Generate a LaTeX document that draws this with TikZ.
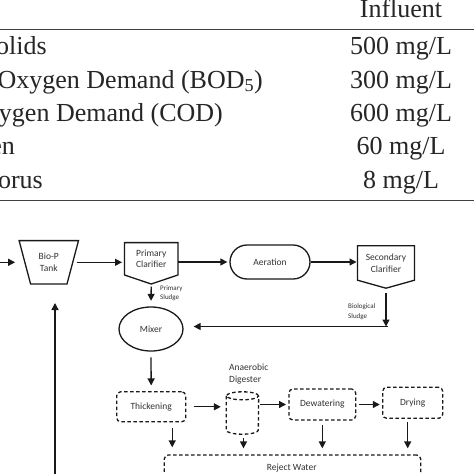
\documentclass[tikz,border=0pt]{standalone}
\usepackage{fontspec}
\setmainfont{Carlito}
\newfontfamily\tabfont{Liberation Serif}
\usetikzlibrary{arrows.meta,shapes.geometric}
\tikzset{
  thk/.style={line width=1.3pt, draw=black!90},
  arr/.style={thk, -{Triangle[length=7pt,width=7pt]}},
  shp/.style={inner sep=0pt, align=center, font=\fontsize{9.5}{11.6}\selectfont, text=black!80},
  dshd/.style={dash pattern=on 3.5pt off 2.5pt},
  dbox/.style={shp, thk, dshd, rounded corners=4pt},
  small/.style={inner sep=0pt, align=left, font=\fontsize{7}{9.5}\selectfont, text=black!80},
  tab/.style={inner sep=0pt, font=\tabfont\fontsize{26}{30}\selectfont, text=black!85}
}
\begin{document}
\begin{tikzpicture}[x=1pt,y=-1pt]
\useasboundingbox (0,0) rectangle (474,474);
\clip (0,0) rectangle (474,474);
\fill[white] (0,0) rectangle (474,474);
% table
\node[tab, anchor=base] (hdr) at (401,17) {Influent};
\draw[line width=1.1pt, black!75] (0,29.3) -- (474,29.3);
\node[tab, anchor=base east] (r1) at (47,54.5) {Total Suspended Solids};
\node[tab, anchor=base east] (r2) at (263,88) {Biochemical Oxygen Demand (BOD\textsubscript{5})};
\node[tab, anchor=base east] (r3) at (223,121.3) {Chemical Oxygen Demand (COD)};
\node[tab, anchor=base east] (r4) at (15,154.7) {Total Nitrogen};
\node[tab, anchor=base east] (r5) at (43,188) {Total Phosphorus};
\node[tab, anchor=base] (v1) at (401,54.5) {500 mg/L};
\node[tab, anchor=base] (v2) at (401,88) {300 mg/L};
\node[tab, anchor=base] (v3) at (401,121.3) {600 mg/L};
\node[tab, anchor=base] (v4) at (401,154.7) {60 mg/L};
\node[tab, anchor=base] (v5) at (401,188) {8 mg/L};
\draw[line width=1.1pt, black!75] (0,200.5) -- (474,200.5);
% flow sheet
\node[shp, minimum width=59pt, minimum height=43pt] (biop) at (48.8,262.3) {Bio-P\\Tank};
\draw[thk] (biop.north west) -- (biop.north east) -- ([xshift=-11.5pt]biop.south east)
  -- ([xshift=11.5pt]biop.south west) -- cycle;
\node[shp, minimum width=53pt, minimum height=32pt] (pc) at (151.2,258.8) {Primary\\Clarifier};
\draw[thk] (pc.north west) -- (pc.north east) -- (pc.south east) -- ([yshift=-9pt]pc.south)
  -- (pc.south west) -- cycle;
\node[shp, thk, rounded corners=17pt, minimum width=80pt, minimum height=34pt] (aer) at (270,262) {Aeration};
\node[shp, minimum width=56.6pt, minimum height=34pt] (sc) at (386,263) {Secondary\\Clarifier};
\draw[thk] (sc.north west) -- (sc.north east) -- (sc.south east) -- ([yshift=-8pt]sc.south)
  -- (sc.south west) -- cycle;
\node[shp, thk, ellipse, minimum width=64pt, minimum height=44pt] (mix) at (151,329) {Mixer};
\node[dbox, minimum width=69pt, minimum height=30pt] (thk) at (151.2,406.8) {Thickening};
\node[shp, minimum width=32pt, minimum height=42pt] (dig) at (242.5,413) {};
\draw[thk, dshd] ([yshift=-4pt]dig.north) ellipse [x radius=16pt, y radius=4pt];
\draw[thk, dshd] ([yshift=-4pt]dig.north west) -- ([yshift=4pt]dig.south west)
  arc[start angle=180, end angle=360, x radius=16pt, y radius=4pt] -- ([yshift=-4pt]dig.north east);
\node[shp, align=left, anchor=south west] (digl) at (229,384) {Anaerobic\\Digester};
\node[dbox, minimum width=66.7pt, minimum height=31pt] (dew) at (322.3,404.5) {Dewatering};
\node[dbox, minimum width=60pt, minimum height=31pt] (dry) at (412.7,402.8) {Drying};
\node[dbox, minimum width=256.4pt, minimum height=45pt] (rw) at (292.5,477.5) {};
\node[shp] (rwl) at (291.7,468) {Reject Water};
\coordinate (in) at (-2,262.3);
\coordinate (bs) at (386,326.5);
\coordinate (ret) at (55,480);
\draw[arr, shorten >=4pt] (in) -- (biop.west);
\draw[arr, shorten <=-2pt, shorten >=2.5pt] (biop.east) -- (biop.east -| pc.west);
\draw[arr, shorten >=2pt] (pc.east |- aer.west) -- (aer.west);
\draw[arr, shorten >=1pt] (aer.east) -- (aer.east -| sc.west);
\draw[arr, shorten <=5pt] ([yshift=-8pt]sc.south) -- (bs);
\node[small, anchor=west] (bsl) at (348,311.5) {Biological\\Sludge};
\draw[thk, -{Triangle[length=7pt,width=7pt]}, shorten >=10pt] ([xshift=2pt]bs) -- (bs -| mix.east);
\draw[arr, shorten <=2.5pt, shorten >=5.5pt] ([yshift=-9pt]pc.south) -- (mix.north);
\node[small, anchor=west] (psl) at (160,293) {Primary\\Sludge};
\draw[arr, shorten >=19pt] (ret) -- (ret |- biop.south);
\draw[arr, shorten <=5.7pt, shorten >=5.7pt] (mix.south) -- (thk.north);
\draw[arr, shorten <=7.3pt, shorten >=5.5pt] (thk.east) -- (thk.east -| dig.west);
\draw[arr, shorten <=1pt, shorten >=2.3pt] (dew.west -| dig.east) -- (dew.west);
\draw[arr, shorten <=2.6pt, shorten >=2.3pt] (dew.east) -- (dew.east -| dry.west);
\draw[arr, shorten <=5.7pt, shorten >=7pt] ([xshift=21pt]thk.south) -- ([xshift=21pt]thk.south |- rw.north);
\draw[arr, shorten <=4pt, shorten >=6pt] ([xshift=1pt]dig.south) -- ([xshift=1pt]dig.south |- rw.north);
\draw[arr, shorten <=4pt, shorten >=6pt] (dew.south) -- (dew.south |- rw.north);
\draw[arr, shorten <=3pt, shorten >=6pt] ([xshift=-5pt]dry.south) -- ([xshift=-5pt]dry.south |- rw.north);
\end{tikzpicture}
\end{document}
